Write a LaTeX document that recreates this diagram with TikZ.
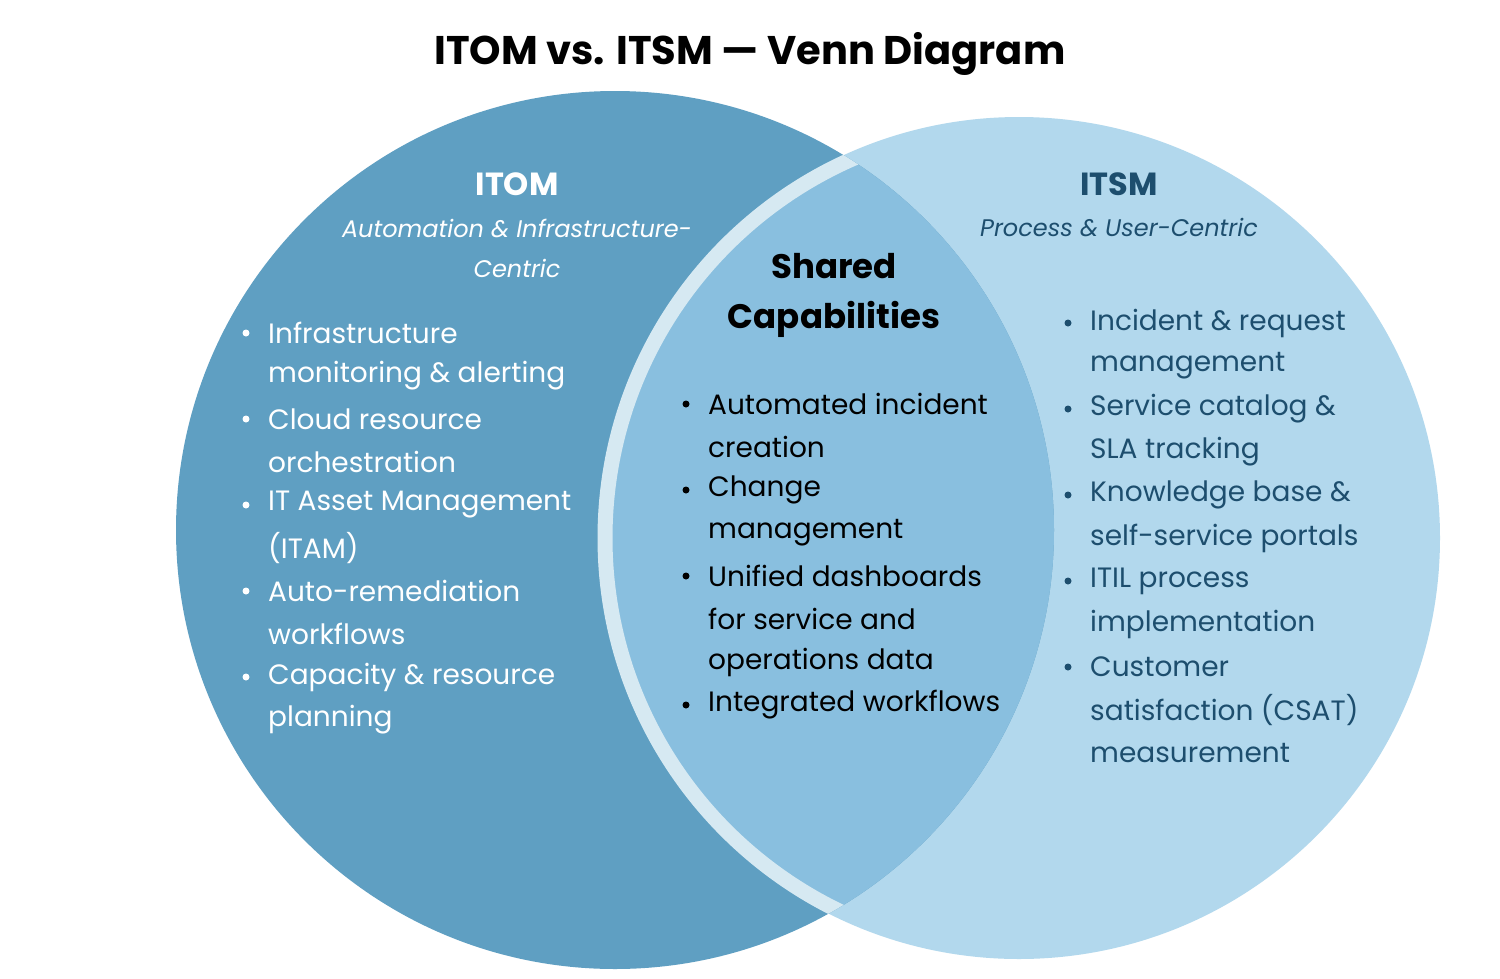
\documentclass[tikz,border=0pt]{standalone}
\usepackage{fontspec}
\setmainfont{Poppins}
\definecolor{lc}{HTML}{5F9FC2}
\definecolor{rc}{HTML}{B2D8ED}
\definecolor{ic}{HTML}{89BFDF}
\definecolor{ring}{HTML}{D6E9F2}
\definecolor{dk}{HTML}{1D4E6E}
\begin{document}
\begin{tikzpicture}[x=1pt,y=-1pt,
  it/.style={anchor=west,inner sep=0pt,font=\fontsize{28}{28}\selectfont},
  bl/.style={circle,fill,inner sep=0pt,minimum size=7pt}]
\useasboundingbox (0,0) rectangle (1500,978);
\fill[white] (0,0) rectangle (1500,978);
\fill[rc] (1019,538) circle (421);
\fill[lc] (615,530) circle (439);
\begin{scope}
\clip (615,530) circle (439);
\fill[ic] (1019,538) circle (421);
\draw[ring,line width=15pt] (1019,538) circle (414);
\end{scope}
\node[font=\fontsize{40}{40}\selectfont\bfseries] (title) at (750,54) {ITOM vs. ITSM — Venn Diagram};
% left
\node[font=\fontsize{32}{32}\selectfont\bfseries,white] (lt) at (517,184) {ITOM};
\node[font=\fontsize{24}{40}\selectfont\itshape,white,align=center] (ls) at (517,248) {Automation \& Infrastructure-\\Centric};
\foreach \t/\y [count=\i] in {Infrastructure/333,monitoring \& alerting/376,Cloud resource/419,orchestration/462,IT Asset Management/505,(ITAM)/548,Auto-remediation/591,workflows/634,Capacity \& resource/677,planning/720}
  \node[it,white] (l\i) at (268,\y) {\t};
\foreach \y [count=\i] in {333,419,505,591,677}
  \node[bl,white] (lb\i) at (246,\y) {};
% shared
\node[font=\fontsize{34}{50}\selectfont\bfseries,align=center] (st) at (834,295) {Shared\\Capabilities};
\foreach \t/\y [count=\i] in {Automated incident/404,creation/447,Change/490,management/533,Unified dashboards/576,for service and/619,operations data/662,Integrated workflows/705}
  \node[it] (s\i) at (708,\y) {\t};
\foreach \y [count=\i] in {404,490,576,705}
  \node[bl] (sb\i) at (686,\y) {};
% right
\node[font=\fontsize{32}{32}\selectfont\bfseries,dk] (rt) at (1119,184) {ITSM};
\node[font=\fontsize{24}{24}\selectfont\itshape,dk] (rs) at (1119,228) {Process \& User-Centric};
\foreach \t/\y [count=\i] in {Incident \& request/323,management/366,Service catalog \&/409,SLA tracking/452,Knowledge base \&/495,self-service portals/538,ITIL process/581,implementation/624,Customer/667,satisfaction (CSAT)/710,measurement/753}
  \node[it,dk] (r\i) at (1090,\y) {\t};
\foreach \y [count=\i] in {323,409,495,581,667}
  \node[bl,dk] (rb\i) at (1068,\y) {};
\end{tikzpicture}
\end{document}
